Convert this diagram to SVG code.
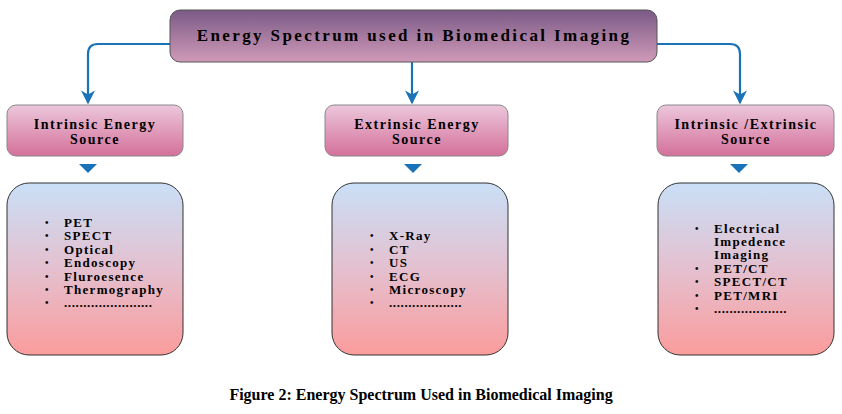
<svg xmlns="http://www.w3.org/2000/svg" width="842" height="414" viewBox="0 0 842 414">
<style>
text{font-family:"Liberation Serif","Times New Roman",serif;font-weight:bold;fill:#000}
.h{font-size:14px;letter-spacing:1.5px;text-anchor:middle}
.l{font-size:13px;letter-spacing:1.3px}
.b{font-size:10px}
.hb{fill:url(#gh);stroke:#888;stroke-width:1}
.lb{fill:url(#gl);stroke:#333;stroke-width:1}
.c{fill:none;stroke:#1a72b8;stroke-width:2.2}
.t{fill:#1a72b8}
</style>
<defs>
<linearGradient id="gt" x1="0" y1="0" x2="0" y2="1"><stop offset="0" stop-color="#7a5a86"/><stop offset="1" stop-color="#d09ab8"/></linearGradient>
<linearGradient id="gh" x1="0" y1="0" x2="0" y2="1"><stop offset="0" stop-color="#ecc7dc"/><stop offset="1" stop-color="#d4709a"/></linearGradient>
<linearGradient id="gl" x1="0" y1="0" x2="0" y2="1"><stop offset="0" stop-color="#c9dff7"/><stop offset="0.5" stop-color="#e4c0cf"/><stop offset="1" stop-color="#fb9c9c"/></linearGradient>
<marker id="a" viewBox="0 0 10 10" refX="9" refY="5" markerWidth="14" markerHeight="14" orient="auto" markerUnits="userSpaceOnUse"><path d="M0,0 L10,5 L0,10 L3,5z" fill="#1a72b8"/></marker>
</defs>
<g id="connectors">
<path class="c" d="M170,44 H98 Q88,44 88,54 V103" marker-end="url(#a)"/>
<path class="c" d="M412,62 V103" marker-end="url(#a)"/>
<path class="c" d="M657,44 H730 Q740,44 740,54 V103" marker-end="url(#a)"/>
<path class="t" d="M79,164 L97,164 L88,173 Z"/>
<path class="t" d="M404,164 L422,164 L413,173 Z"/>
<path class="t" d="M730,164 L748,164 L739,173 Z"/>
</g>
<g id="top"><rect x="170" y="10" width="487" height="52" rx="10" fill="url(#gt)" stroke="#555"/>
<text class="h" x="414" y="41" style="font-size:17px;letter-spacing:2.4px">Energy Spectrum used in Biomedical Imaging</text></g>
<g id="h1"><rect class="hb" x="7" y="105" width="176" height="51" rx="9"/><text class="h" x="95" y="129">Intrinsic Energy</text><text class="h" x="95" y="144">Source</text></g>
<g id="h2"><rect class="hb" x="325" y="105" width="183" height="51" rx="9"/><text class="h" x="417" y="129">Extrinsic Energy</text><text class="h" x="417" y="144">Source</text></g>
<g id="h3"><rect class="hb" x="657" y="105" width="177" height="51" rx="9"/><text class="h" x="746" y="129">Intrinsic /Extrinsic</text><text class="h" x="746" y="144">Source</text></g>
<g id="l1"><rect class="lb" x="7" y="183" width="176" height="172" rx="22"/>
<text class="b" x="45" y="226">•</text><text class="l" x="64" y="227">PET</text>
<text class="b" x="45" y="239">•</text><text class="l" x="64" y="240">SPECT</text>
<text class="b" x="45" y="253">•</text><text class="l" x="64" y="254">Optical</text>
<text class="b" x="45" y="266">•</text><text class="l" x="64" y="267">Endoscopy</text>
<text class="b" x="45" y="280">•</text><text class="l" x="64" y="281">Fluroesence</text>
<text class="b" x="45" y="293">•</text><text class="l" x="64" y="294">Thermography</text>
<text class="b" x="45" y="306">•</text><text class="l" x="64" y="307" style="letter-spacing:0.6px">.......................</text></g>
<g id="l2"><rect class="lb" x="332" y="183" width="176" height="172" rx="22"/>
<text class="b" x="370" y="239">•</text><text class="l" x="389" y="240">X-Ray</text>
<text class="b" x="370" y="253">•</text><text class="l" x="389" y="254">CT</text>
<text class="b" x="370" y="266">•</text><text class="l" x="389" y="267">US</text>
<text class="b" x="370" y="280">•</text><text class="l" x="389" y="281">ECG</text>
<text class="b" x="370" y="293">•</text><text class="l" x="389" y="294">Microscopy</text>
<text class="b" x="370" y="306">•</text><text class="l" x="389" y="307" style="letter-spacing:0.6px">...................</text></g>
<g id="l3"><rect class="lb" x="658" y="183" width="176" height="172" rx="22"/>
<text class="b" x="695" y="232">•</text><text class="l" x="714" y="233">Electrical</text>
<text class="l" x="714" y="246">Impedence</text>
<text class="l" x="714" y="259">Imaging</text>
<text class="b" x="695" y="272">•</text><text class="l" x="714" y="273">PET/CT</text>
<text class="b" x="695" y="285">•</text><text class="l" x="714" y="286">SPECT/CT</text>
<text class="b" x="695" y="299">•</text><text class="l" x="714" y="300">PET/MRI</text>
<text class="b" x="695" y="312">•</text><text class="l" x="714" y="313" style="letter-spacing:0.6px">...................</text></g>
<text x="421" y="400" style="font-size:16px;text-anchor:middle">Figure 2: Energy Spectrum Used in Biomedical Imaging</text>
</svg>
